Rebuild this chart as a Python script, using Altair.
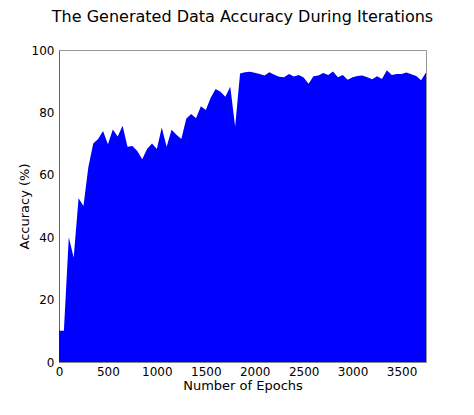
import altair as alt
import pandas as pd

epochs = list(range(0, 3800, 50))
accuracy = [
    10, 10, 40, 33.5, 52.5, 50, 62.5, 70, 71.5, 74,
    69.8, 74.5, 72.3, 75.7, 69, 69.2, 67.6, 65, 68.3, 70,
    68.3, 75.2, 69, 74.4, 72.8, 71.5, 78, 79.5, 78.1, 82,
    80.8, 84.7, 87.5, 86.6, 85, 88.2, 75.4,
    92.5, 92.9, 93.0, 92.7, 92.3, 91.8, 92.9, 92.1, 91.4, 91.3,
    92.3, 91.5, 92.0, 91.2, 89.2, 91.6, 91.8, 92.6, 92.0, 93.1,
    91.3, 92.0, 90.5, 91.3, 91.7, 91.8, 91.3, 90.6, 91.6, 90.7,
    93.5, 92.0, 92.3, 92.3, 92.8, 92.2, 91.7, 90.3, 92.8,
]
x_ticks = [0, 500, 1000, 1500, 2000, 2500, 3000, 3500]
y_ticks = [0, 20, 40, 60, 80, 100]

df = pd.DataFrame({"epoch": epochs, "acc": accuracy})

FONT = "DejaVu Sans"

chart = alt.Chart(df).mark_area(color="#0000FF", opacity=1, interpolate="linear").encode(
    x=alt.X("epoch:Q",
            scale=alt.Scale(domain=[0, 3750], nice=False, zero=False),
            axis=alt.Axis(values=x_ticks, format="d", title="Number of Epochs", grid=False,
                          ticks=False, labelPadding=4, titlePadding=2,
                          labelFontSize=12, titleFontSize=13, labelFont=FONT,
                          titleFont=FONT, titleFontWeight="normal",
                          labelColor="black", titleColor="black",
                          domainColor="#888888", labelFlush=False)),
    y=alt.Y("acc:Q",
            scale=alt.Scale(domain=[0, 100], nice=False),
            axis=alt.Axis(values=y_ticks, format="d", title="Accuracy (%)", grid=False,
                          ticks=False, labelPadding=5, titlePadding=0,
                          labelFontSize=12, titleFontSize=13, labelFont=FONT,
                          titleFont=FONT, titleFontWeight="normal",
                          labelColor="black", titleColor="black",
                          domainColor="#666666")),
).properties(
    width=367,
    height=312,
    autosize=alt.AutoSizeParams(type="none"),
    padding={"left": 51, "top": 42, "right": 30, "bottom": 45},
    title=alt.TitleParams(
        "The Generated Data Accuracy During Iterations",
        font=FONT, fontSize=16, fontWeight="normal", color="black",
        anchor="middle", frame="group", baseline="alphabetic", offset=6,
    ),
).configure_view(
    stroke="#999999", strokeWidth=1
)

chart.save("out.html", embed_options={"renderer": "svg", "actions": False})
